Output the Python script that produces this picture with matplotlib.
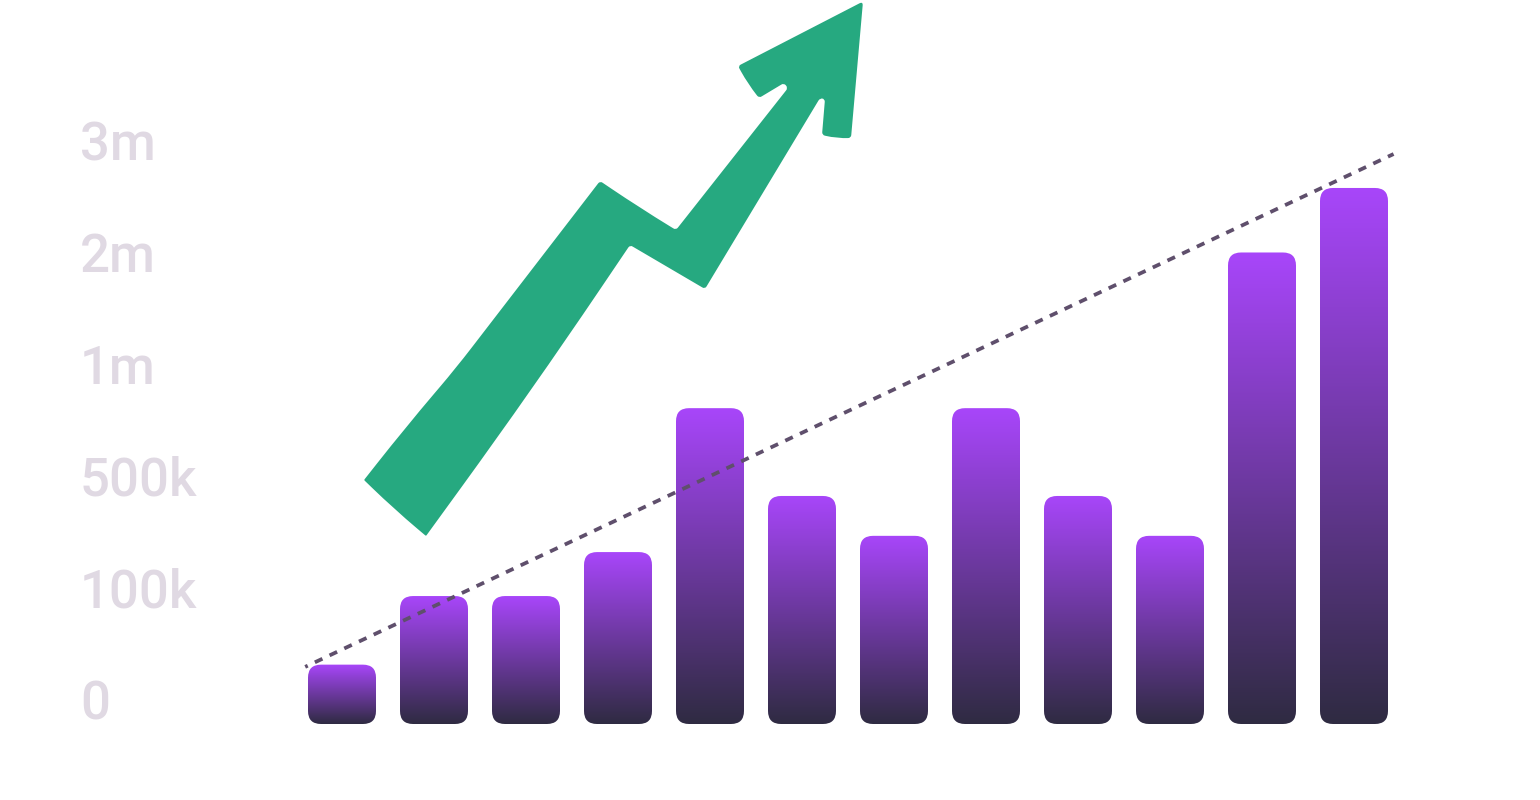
import numpy as np
import matplotlib
matplotlib.use("Agg")
import matplotlib.pyplot as plt
from matplotlib.path import Path
from matplotlib.patches import PathPatch, FancyBboxPatch
from matplotlib.transforms import Affine2D, IdentityTransform
from matplotlib.colors import LinearSegmentedColormap

# ---- data ----
tick_values = [0, 100_000, 500_000, 1_000_000, 2_000_000, 3_000_000]
tick_labels = ["0", "100k", "500k", "1m", "2m", "3m"]
bar_values = [53_000, 157_000, 157_000, 314_000, 910_000, 518_000,
              372_000, 910_000, 518_000, 372_000, 2_210_000, 2_786_000]
trend_x = [-0.40, 11.43]
trend_y = [51_000, 3_089_000]

# ---- style ----
W, H = 1540, 800
TEXT = "#E0D9E3"
GREEN = "#26A980"
TREND = "#5F4F6C"
TOP, BOTTOM = "#A846FA", "#2F2B42"

# the value axis has evenly spaced ticks with uneven values
pos = np.arange(len(tick_values), dtype=float)
vals = np.array(tick_values, dtype=float)


def forward(v):
    v = np.asarray(v, dtype=float)
    out = np.interp(v, vals, pos)
    out = np.where(v > vals[-1], pos[-1] + (v - vals[-1]) / 1e6, out)
    out = np.where(v < 0, v / 1e5, out)
    return out


def inverse(p):
    p = np.asarray(p, dtype=float)
    out = np.interp(p, pos, vals)
    out = np.where(p > pos[-1], vals[-1] + (p - pos[-1]) * 1e6, out)
    out = np.where(p < 0, p * 1e5, out)
    return out


fig = plt.figure(figsize=(W / 100, H / 100), dpi=100, facecolor="white")
ax = fig.add_axes([0, 0, 1, 1])
ax.set_facecolor("none")
ax.set_yscale("function", functions=(forward, inverse))

STEP_X, BASE_X = 92.0, 342.0
STEP_Y, BASE_Y = 112.0, 724.0
ax.set_xlim(-BASE_X / STEP_X, (W - BASE_X) / STEP_X)
ax.set_ylim(float(inverse((BASE_Y - H) / STEP_Y)), float(inverse(BASE_Y / STEP_Y)))

for s in ax.spines.values():
    s.set_visible(False)
ax.set_xticks([])
ax.set_yticks(tick_values)
ax.set_yticklabels(tick_labels)
ax.minorticks_off()
ax.tick_params(axis="y", length=0, pad=-57.5)
for lab in ax.get_yticklabels():
    lab.set_ha("left")
    lab.set_va("baseline")
    lab.set_color(TEXT)
    lab.set_fontsize(38)
    lab.set_family("Roboto")
    lab.set_fontweight("medium")
    lab.set_transform(lab.get_transform() + Affine2D().translate(0, 4))

# bars: real bars on the scales, painted with a clipped vertical gradient
x = np.arange(len(bar_values))
bars = ax.bar(x, bar_values, width=68 / STEP_X, color="none", linewidth=0, zorder=2)
cmap = LinearSegmentedColormap.from_list("barfade", [TOP, BOTTOM])
grad = np.linspace(0, 1, 256).reshape(-1, 1)
fig.canvas.draw()
for rect in bars:
    (x0, y0), (x1, y1) = ax.transData.transform(
        [(rect.get_x(), rect.get_y()),
         (rect.get_x() + rect.get_width(), rect.get_y() + rect.get_height())])
    r = 13.0
    clip = FancyBboxPatch((x0 + r, y0 + r), x1 - x0 - 2 * r, y1 - y0 - 2 * r,
                          boxstyle=f"round,pad={r},rounding_size={r}",
                          transform=IdentityTransform(), facecolor="none", edgecolor="none")
    im = ax.imshow(grad, cmap=cmap, extent=(x0, x1, y0, y1), aspect="auto",
                   transform=IdentityTransform(), interpolation="bilinear", zorder=2)
    im.set_clip_path(clip)

# dotted trend line
ax.plot(trend_x, trend_y, color=TREND, lw=2.7, zorder=5, dash_capstyle="butt",
        linestyle=(4.0 / 2.7, (6.0 / 2.7, 5.7 / 2.7)), scalex=False, scaley=False)


# green arrow illustration, outline in image pixels, with softly rounded corners
def rounded(points):
    verts, codes = [], []
    n = len(points)
    for i, (px, py, rad) in enumerate(points):
        p = np.array([px, py], float)
        a = np.array(points[i - 1][:2], float)
        b = np.array(points[(i + 1) % n][:2], float)
        u = (a - p) / np.linalg.norm(a - p)
        v = (b - p) / np.linalg.norm(b - p)
        verts.append(tuple(p + u * rad))
        codes.append(Path.MOVETO if i == 0 else Path.LINETO)
        verts += [tuple(p), tuple(p + v * rad)]
        codes += [Path.CURVE3, Path.CURVE3]
    verts.append(verts[0])
    codes.append(Path.CLOSEPOLY)
    return Path(verts, codes)


arrow_outline = [
    (364, 480, 1), (405, 428, 45), (456, 368, 25),
    (600, 181, 3), (640, 208, 35), (676, 230, 3), (788, 88, 3), (784, 83, 3),
    (759, 98, 3), (748, 84, 14), (738, 66, 3), (863, 1.5, 4), (851, 138, 3),
    (837, 138.5, 12), (822, 135, 3), (825, 99, 3), (820, 98, 3), (705, 289, 3),
    (630, 245, 3), (532, 390, 120), (426, 536, 1), (394, 509, 30),
]
to_display = Affine2D().scale(1, -1).translate(0, H)
ax.add_patch(PathPatch(rounded(arrow_outline), facecolor=GREEN, edgecolor="none",
                       transform=to_display, zorder=4))

fig.savefig("out.png", dpi=100, facecolor="white")
